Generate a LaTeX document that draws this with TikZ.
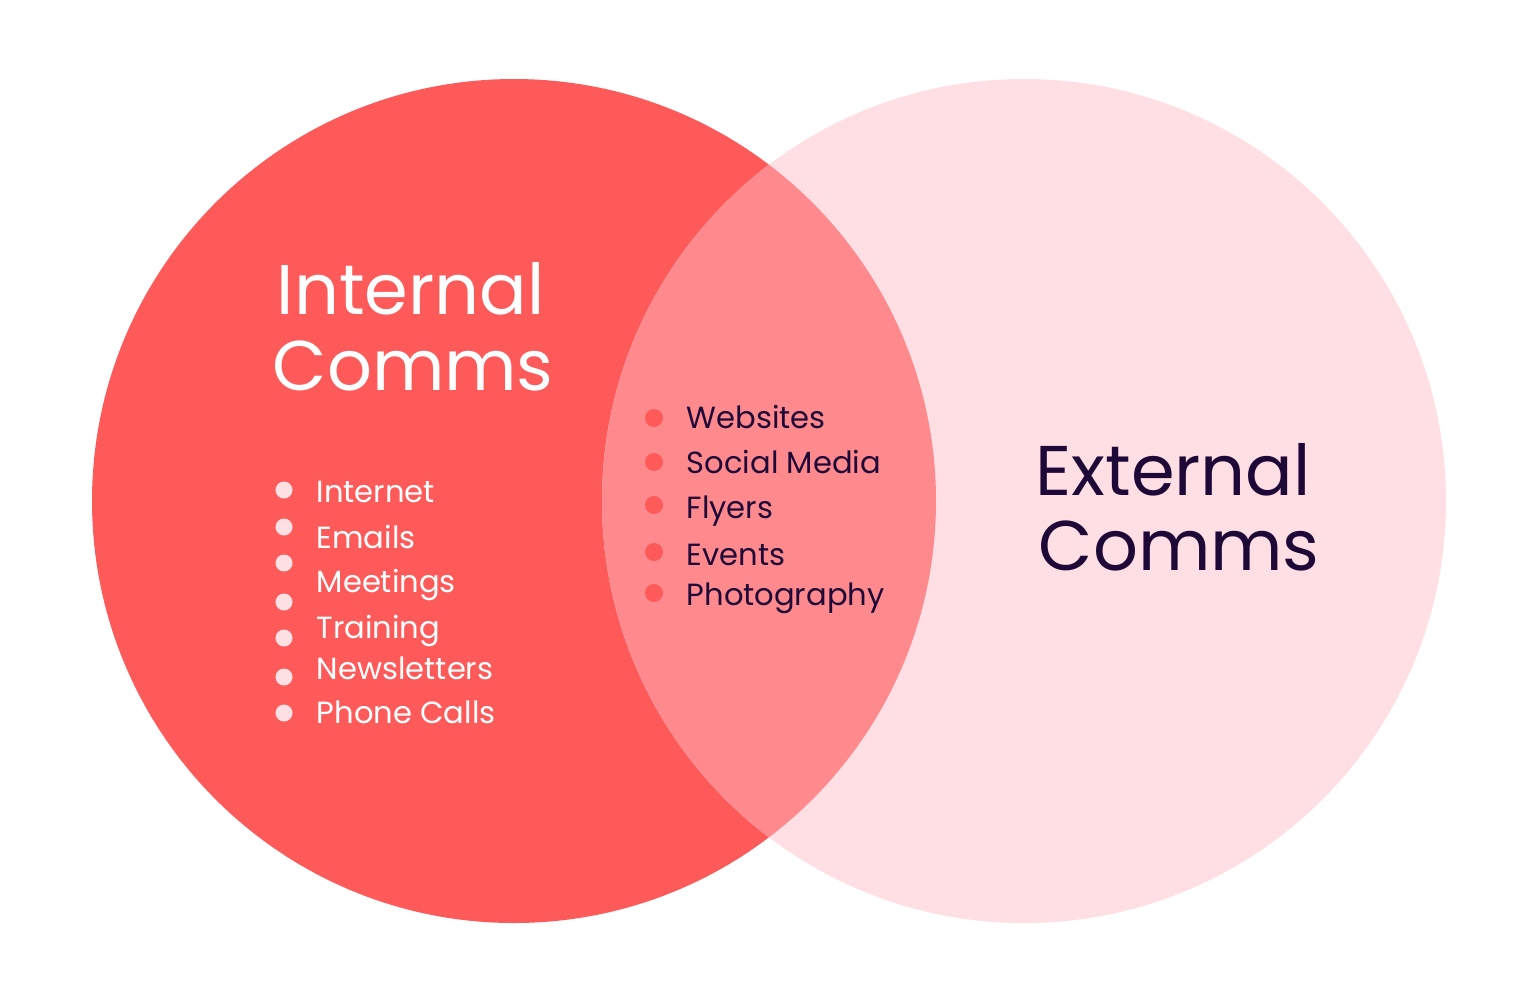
\documentclass[tikz,border=0pt]{standalone}
\usepackage{fontspec}
\setmainfont{Poppins}
\usetikzlibrary{positioning}
\definecolor{intred}{HTML}{FF5A5A}
\definecolor{extpink}{HTML}{FFDFE3}
\definecolor{bothred}{HTML}{FF8A8E}
\definecolor{inkdark}{HTML}{1E0838}
\definecolor{dotlight}{HTML}{FDE0E4}
\tikzset{
  title/.style={anchor=base west, inner sep=0pt, font=\fontsize{20}{21}\selectfont},
  item/.style={anchor=base west, inner sep=0pt, font=\fontsize{8.7}{9}\selectfont},
  dot/.style={circle, inner sep=0pt, minimum size=0.17cm}
}
\begin{document}
\begin{tikzpicture}[x=0.01cm, y=-0.01cm]
		%%%%% START %%%%%
		\useasboundingbox[fill=white] (0, 0) rectangle (1536, 1002);
		
		\fill[intred] (514, 501) circle (422);
		\fill[extpink] (1024, 501) circle (422);
		\begin{scope}
			\clip (514, 501) circle (422);
			\fill[bothred] (1024, 501) circle (422);
		\end{scope}
		
		\node[title, text=white] (intA) at (276, 314) {Internal};
		\node[title, text=white] (intB) at (272, 390) {Comms};
		
		\node[title, text=inkdark] (extA) at (1035, 495) {External};
		\node[title, text=inkdark] (extB) at (1038, 570) {Comms};
		
		% left list
		\foreach \y in {490, 527, 563, 602, 638, 677, 713}
			\node[dot, fill=dotlight] at (284, \y) {};
		\node[item, text=white] (iInternet) at (316, 502) {Internet};
		\node[item, text=white] (iEmails) at (316, 548) {Emails};
		\node[item, text=white] (iMeetings) at (316, 592) {Meetings};
		\node[item, text=white] (iTraining) at (316, 638) {Training};
		\node[item, text=white] (iNews) at (316, 679) {Newsletters};
		\node[item, text=white] (iPhone) at (316, 723) {Phone Calls};
		
		% middle list
		\foreach \y in {418, 462, 505, 552, 593}
			\node[dot, fill=intred, minimum size=0.18cm] at (654, \y) {};
		\node[item, text=inkdark] (bWeb) at (686, 428) {Websites};
		\node[item, text=inkdark] (bSocial) at (686, 473) {Social Media};
		\node[item, text=inkdark] (bFlyers) at (686, 518) {Flyers};
		\node[item, text=inkdark] (bEvents) at (686, 565) {Events};
		\node[item, text=inkdark] (bPhoto) at (686, 605) {Photography};
		%%%%% END %%%%%
	\end{tikzpicture}
\end{document}
